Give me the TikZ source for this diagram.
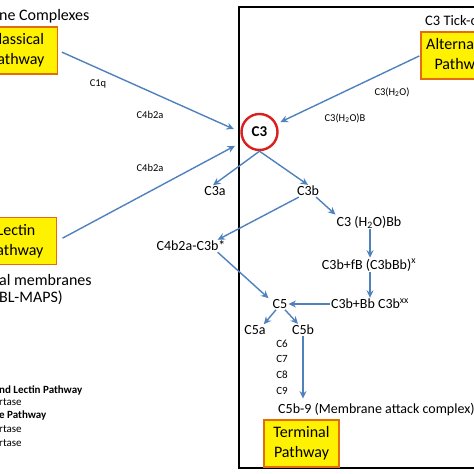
\documentclass[tikz,border=0pt]{standalone}
\usepackage{fontspec}
\setmainfont{Carlito}
\usetikzlibrary{arrows.meta}
\definecolor{arrblue}{RGB}{79,129,189}
\definecolor{boxorange}{RGB}{228,108,10}
\definecolor{circred}{RGB}{218,32,28}
\begin{document}
\begin{tikzpicture}[x=1pt,y=-1pt,
  arr/.style={draw=arrblue,line width=1.4pt,-{Stealth[length=7.5pt,width=7pt,inset=2.5pt]}},
  pbox/.style={draw=boxorange,fill=yellow,line width=1.5pt,minimum width=75pt,minimum height=47pt,align=center,font=\fontsize{16}{20}\selectfont,inner sep=0pt},
  lbl/.style={font=\fontsize{14}{16}\selectfont,inner sep=1pt},
  sml/.style={font=\fontsize{10.5}{12}\selectfont,inner sep=1pt},
  cl/.style={font=\fontsize{11}{13}\selectfont,inner sep=1pt},
  big/.style={font=\fontsize{16}{18}\selectfont,inner sep=0pt,anchor=west},
  leg/.style={font=\fontsize{11}{13}\selectfont,inner sep=0pt,anchor=west}]
\useasboundingbox (0,0) rectangle (474,474);
\clip (0,0) rectangle (474,474);
% frame
\draw[line width=1.8pt] (520,7) -- (239,7) -- (239,468) -- (520,468);
% texts on the left
\node[big] (title) at (-1,16) {ne Complexes};
\node[big] (memb) at (-1,280) {al membranes};
\node[big,anchor=east] (mbl) at (63,298) {(MBL-MAPS)};
\node[leg,font=\fontsize{11}{13}\selectfont\bfseries] (lg1) at (-1,390) {nd Lectin Pathway};
\node[leg] (lg2) at (-1,402) {rtase};
\node[leg,font=\fontsize{11}{13}\selectfont\bfseries] (lg3) at (-1,416) {e Pathway};
\node[leg] (lg4) at (-1,429) {rtase};
\node[leg] (lg5) at (-1,443) {rtase};
\node[font=\fontsize{14.5}{17}\selectfont,anchor=west,inner sep=0pt] (tick) at (425,21) {C3 Tick-over};
% pathway boxes
\node[pbox,minimum width=81pt] (classical) at (17,50.5) {Classical\\Pathway};
\node[pbox,minimum width=81pt] (lectin) at (16,241) {Lectin\\Pathway};
\node[pbox,minimum width=82pt] (alt) at (462,55.5) {Alternative\\Pathway};
\node[pbox] (terminal) at (301.5,443.5) {Terminal\\Pathway};
% C3
\node[circle,draw=circred,line width=2.4pt,minimum size=36pt,inner sep=0pt,font=\fontsize{15}{17}\selectfont\bfseries] (c3) at (259.5,132) {C3};
% labels
\node[sml] (c1q) at (98,84) {C1q};
\node[sml] (c4a) at (150,115) {C4b2a};
\node[sml] (c4b) at (150,168) {C4b2a};
\node[sml] (h2o) at (392,92) {C3(H\textsubscript{2}O)};
\node[sml] (h2ob) at (345,118) {C3(H\textsubscript{2}O)B};
\node[lbl] (c3a) at (215,191) {C3a};
\node[lbl] (c3b) at (308,191) {C3b};
\node[lbl] (cx) at (191,246) {C4b2a-C3b*};
\node[lbl] (h2obb) at (369,222) {C3 (H\textsubscript{2}O)Bb};
\node[lbl] (fb) at (369,265) {C3b+fB (C3bBb)\textsuperscript{x}};
\node[lbl] (bb) at (370,304) {C3b+Bb C3b\textsuperscript{xx}};
\node[lbl] (c5) at (280,304) {C5};
\node[lbl] (c5a) at (255,330) {C5a};
\node[lbl] (c5b) at (303,330) {C5b};
\node[cl] (c6) at (282,344) {C6};
\node[cl] (c7) at (282,359) {C7};
\node[cl] (c8) at (282,375) {C8};
\node[cl] (c9) at (282,391) {C9};
\node[lbl,anchor=west] (mac) at (277,410) {C5b-9 (Membrane attack complex)};
% arrows
\draw[arr,shorten <=4pt,shorten >=7pt] (classical.east) -- (c3.west);
\draw[arr,shorten <=6pt,shorten >=9pt] (lectin.east) -- (c3.210);
\draw[arr,shorten <=1pt,shorten >=4pt] (alt.west) -- (c3);
\draw[arr] (c3.south) -- ([xshift=-2pt]c3a.north);
\draw[arr] (c3.south) -- (c3b.north);
\draw[arr] ([xshift=3pt]c3b.south west) -- ([xshift=-9pt]cx.north east);
\draw[arr] ([xshift=-4pt]c3b.south east) -- (h2obb.north west);
\draw[arr] ([xshift=1pt]h2obb.south) -- ([xshift=1pt]h2obb.south |- fb.north);
\draw[arr] ([xshift=1pt]h2obb.south |- fb.south) -- ([xshift=1pt]h2obb.south |- bb.north);
\draw[arr] (bb.west) -- (c5.east);
\draw[arr] ([xshift=-9pt]cx.south east) -- ([xshift=-3pt]c5.north west);
\draw[arr] ([xshift=-4pt]c5.south) -- ([xshift=-3pt]c5a.north east);
\draw[arr] ([xshift=5pt]c5.south) -- ([xshift=-5pt]c5b.north);
\draw[arr,shorten >=4pt] (c5b.south) -- (c5b.south |- mac.north);
\end{tikzpicture}
\end{document}
